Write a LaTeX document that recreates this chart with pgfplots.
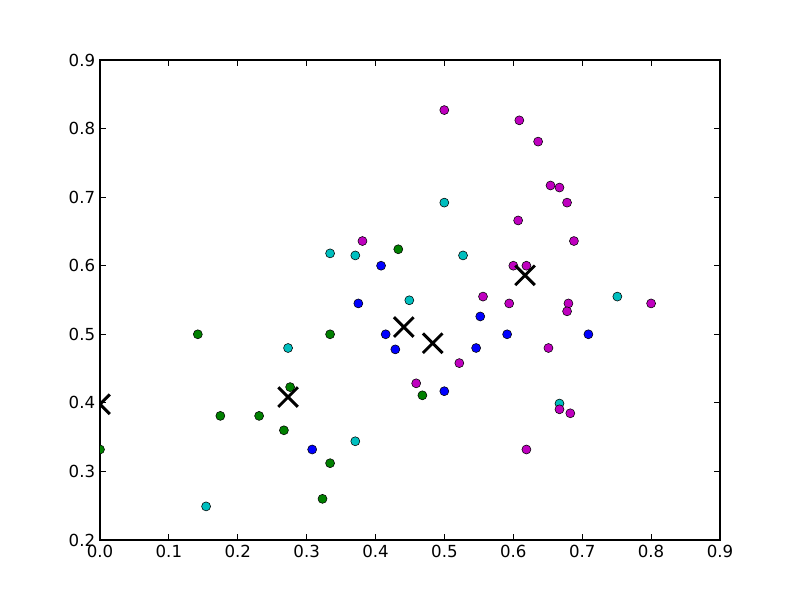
\documentclass[border=0pt]{standalone}
\usepackage{pgfplots}
\pgfplotsset{compat=1.18}
\usepackage{fontspec}
\setmainfont{DejaVu Sans}
\definecolor{mplblue}{rgb}{0,0,1}
\definecolor{mplgreen}{rgb}{0,0.5,0}
\definecolor{mplcyan}{rgb}{0,0.75,0.75}
\definecolor{mplmag}{rgb}{0.75,0,0.75}
\begin{document}
\begin{tikzpicture}
\path[use as bounding box] (-72.27pt,-43.36pt) rectangle (505.89pt,390.26pt);
\begin{axis}[
  at={(0,0)}, anchor=south west,
  scale only axis, width=448.07pt, height=346.9pt,
  xmin=0, xmax=0.9, ymin=0.2, ymax=0.9,
  xtick={0,0.1,...,0.9}, ytick={0.2,0.3,...,0.9},
  xticklabel style={/pgf/number format/.cd,fixed,fixed zerofill,precision=1},
  yticklabel style={/pgf/number format/.cd,fixed,fixed zerofill,precision=1},
  /pgf/number format/assume math mode=true,
  tick label style={font=\fontsize{12}{14}\selectfont},
  tick align=inside, major tick length=4pt,
  axis line style={line width=0.8pt},
  tick style={line width=0.6pt, black},
  clip marker paths=true,
  every axis plot/.append style={only marks, mark=*, mark size=3.25pt, mark options={draw=black, line width=0.4pt}},
]
\addplot[mark options={fill=mplgreen}] coordinates {
(0,0.332) (0.142,0.500) (0.1747,0.381) (0.231,0.381) (0.267,0.360) (0.276,0.423)
(0.334,0.500) (0.334,0.312) (0.323,0.260) (0.433,0.624) (0.468,0.411)
};
\addplot[mark options={fill=mplblue}] coordinates {
(0.308,0.332) (0.375,0.545) (0.4147,0.500) (0.4287,0.478) (0.4998,0.417)
(0.552,0.526) (0.546,0.480) (0.591,0.500) (0.709,0.500) (0.408,0.600)
};
\addplot[mark options={fill=mplcyan}] coordinates {
(0.334,0.618) (0.273,0.480) (0.154,0.249) (0.3706,0.615) (0.4998,0.692)
(0.527,0.615) (0.449,0.5496) (0.3706,0.344) (0.751,0.555) (0.667,0.399)
};
\addplot[mark options={fill=mplmag}] coordinates {
(0.4998,0.827) (0.6087,0.812) (0.636,0.781) (0.381,0.636) (0.607,0.666)
(0.600,0.600) (0.619,0.600) (0.556,0.555) (0.594,0.545) (0.654,0.717)
(0.667,0.714) (0.678,0.692) (0.688,0.636) (0.680,0.545) (0.678,0.5335)
(0.800,0.545) (0.651,0.480) (0.5216,0.458) (0.459,0.4285) (0.667,0.3906)
(0.6827,0.3848) (0.619,0.332)
};
\addplot[only marks, mark=x, mark size=10pt, mark options={draw=black, line width=2.1pt}] coordinates {
(0,0.398) (0.273,0.4085) (0.441,0.5106) (0.483,0.487) (0.617,0.586)
};
\end{axis}
\end{tikzpicture}
\end{document}
